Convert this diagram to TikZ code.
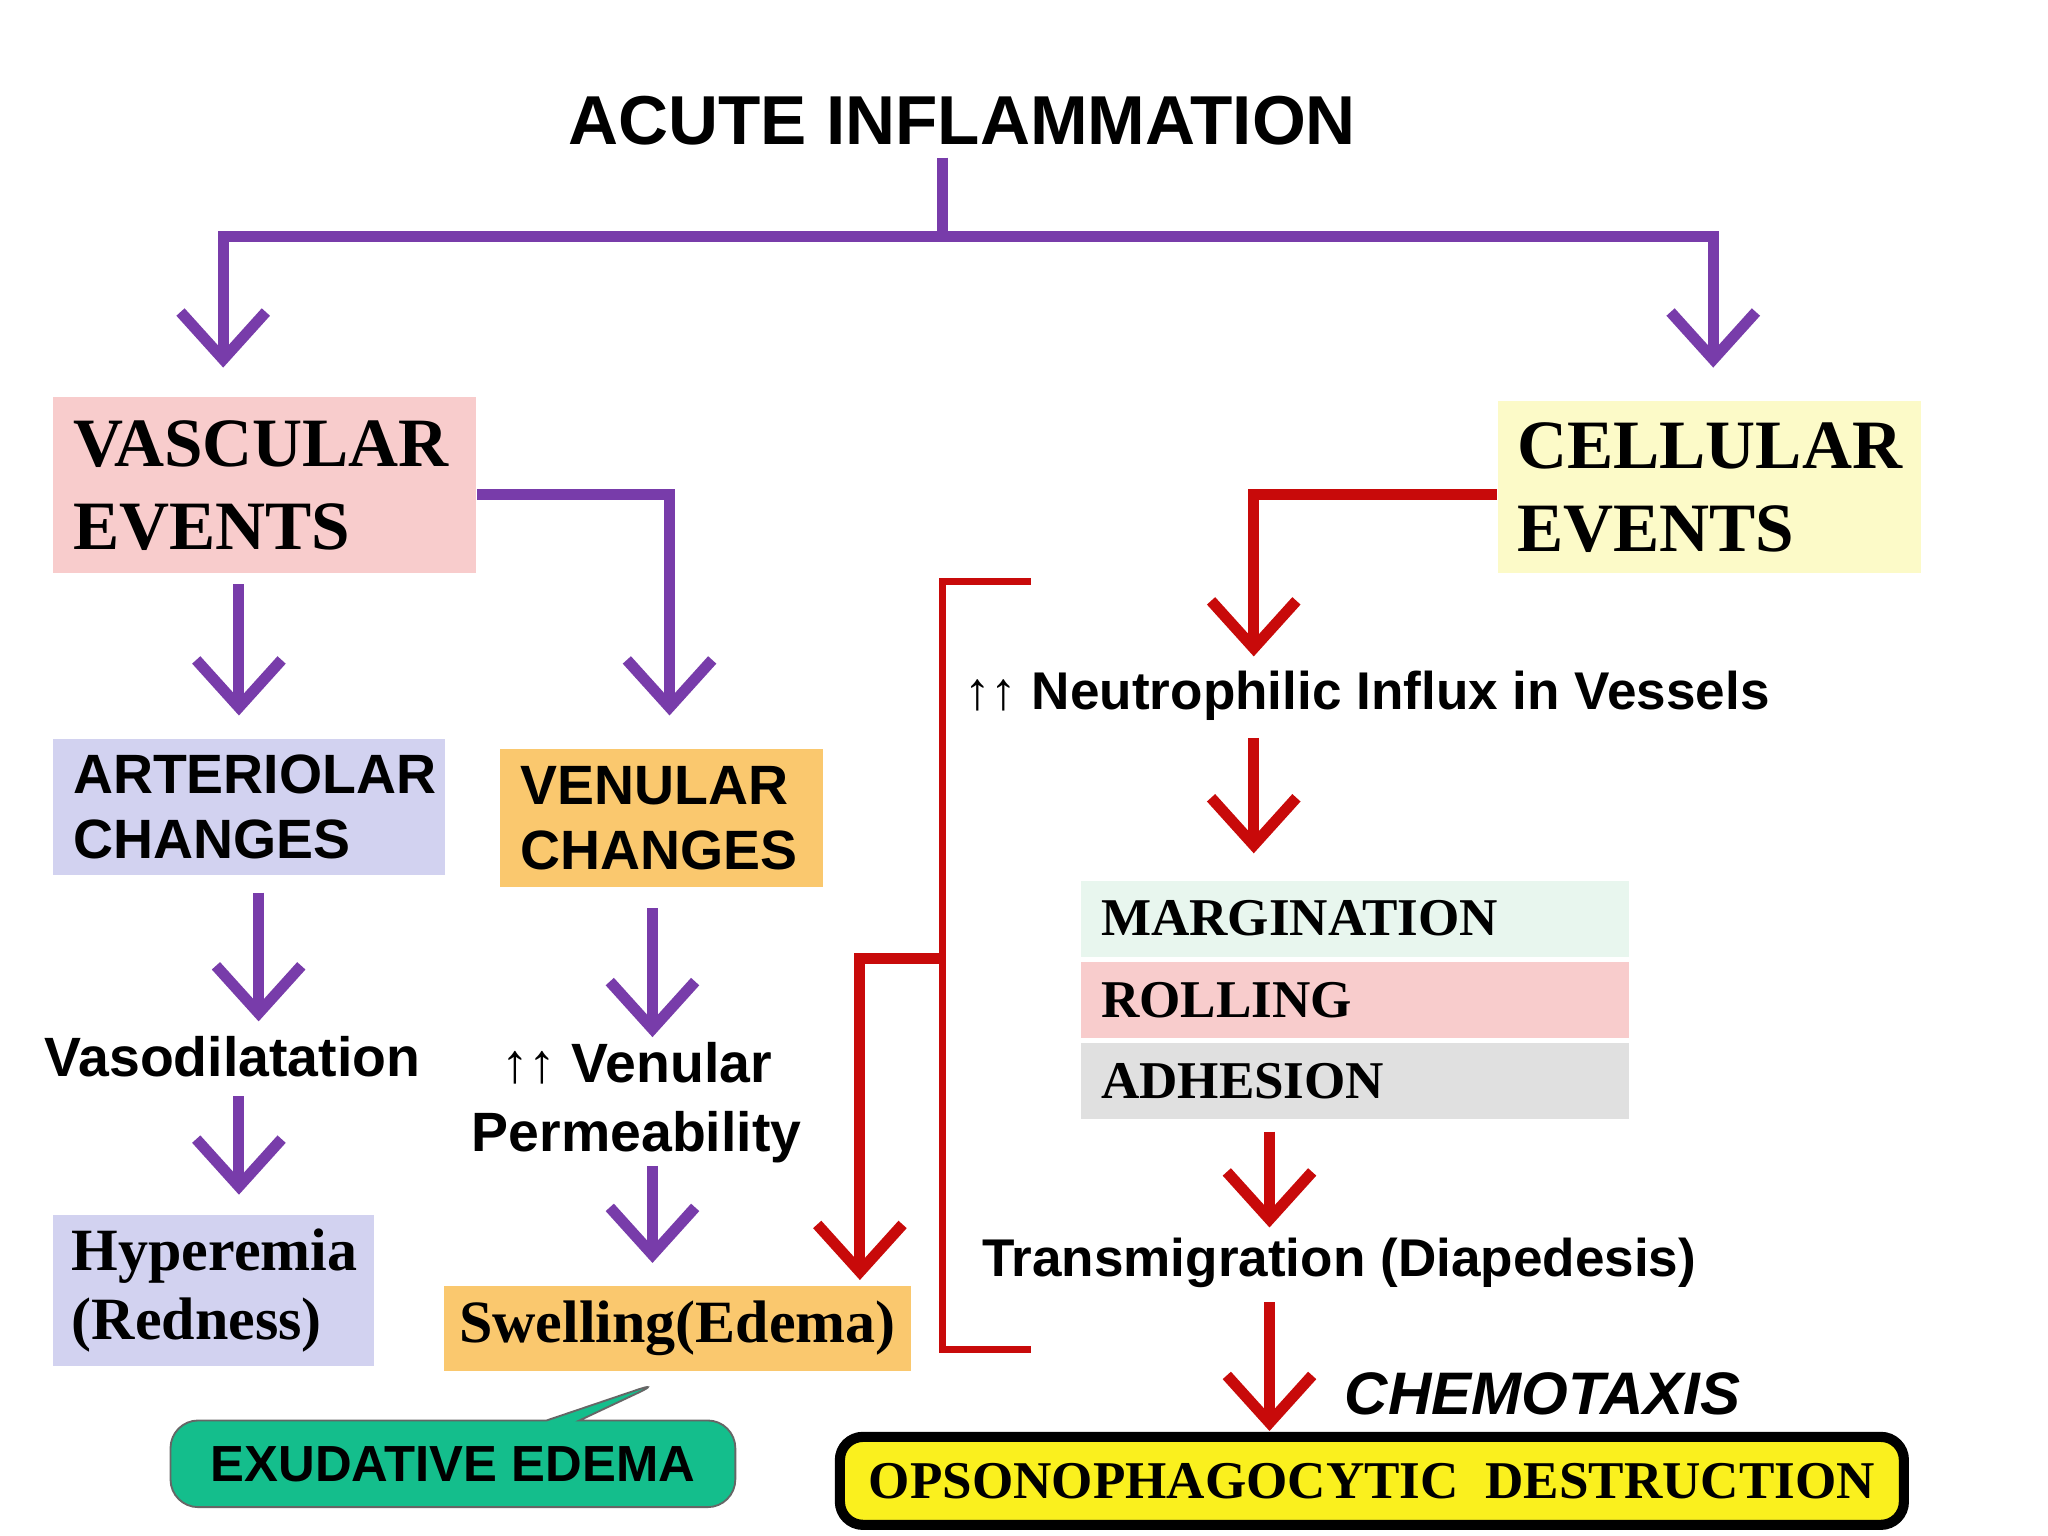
\documentclass[tikz,border=0pt]{standalone}
\usepackage{fontspec}
\setmainfont{Liberation Serif}
\setsansfont{Liberation Sans}
\usetikzlibrary{arrows.meta,shapes.callouts}
\begin{document}
\begin{tikzpicture}[x=0.01cm,y=-0.01cm,
  pur/.style={color={rgb,255:red,120;green,60;blue,170},line width=2.4pt},
  red/.style={color={rgb,255:red,200;green,10;blue,10},line width=2.4pt},
  arr/.style={-{Straight Barb[length=3.6mm,width=6.5mm,line width=2.4pt]}},
  box/.style={anchor=north west,align=left,inner ysep=0pt},
  ser/.style={font=\bfseries\fontsize{15pt}{18pt}\selectfont},
  sans/.style={font=\sffamily\bfseries\fontsize{12pt}{14pt}\selectfont},
  lbl/.style={font=\sffamily\bfseries\fontsize{12pt}{15pt}\selectfont,align=center}]
\useasboundingbox (0,0) rectangle (1560,1170);
\fill[white] (0,0) rectangle (1560,1170);
\node[font=\sffamily\bfseries\fontsize{15pt}{18pt}\selectfont] (title) at (733,92) {ACUTE INFLAMMATION};
% boxes
\node[box,fill={rgb,255:red,248;green,204;blue,204},minimum width=3.22cm,minimum height=1.34cm,ser,text width=2.92cm,inner xsep=0.15cm] (vasc) at (40,302) {VASCULAR\\EVENTS};
\node[box,fill={rgb,255:red,252;green,250;blue,200},minimum width=3.22cm,minimum height=1.31cm,ser,text width=2.92cm,inner xsep=0.15cm] (cell) at (1140,305) {CELLULAR\\EVENTS};
\node[box,fill={rgb,255:red,210;green,210;blue,240},minimum width=2.98cm,minimum height=1.04cm,sans,text width=2.68cm,inner xsep=0.15cm] (art) at (40,562) {ARTERIOLAR\\CHANGES};
\node[box,fill={rgb,255:red,250;green,200;blue,110},minimum width=2.46cm,minimum height=1.05cm,sans,text width=2.14cm,inner xsep=0.16cm] (ven) at (380,570) {VENULAR\\CHANGES};
\node[lbl] (vaso) at (177,805) {Vasodilatation};
\node[box,fill={rgb,255:red,210;green,210;blue,240},minimum width=2.44cm,minimum height=1.15cm,font=\bfseries\fontsize{13pt}{15pt}\selectfont,text width=2.16cm,inner xsep=0.14cm] (hyp) at (40,925) {Hyperemia\\(Redness)};
\node[lbl] (perm) at (485,840) {↑↑ Venular\\Permeability};
\node[fill={rgb,255:red,250;green,200;blue,110},minimum width=3.48cm,minimum height=0.6cm,font=\bfseries\fontsize{13pt}{15pt}\selectfont] (swell) at (516,1012) {Swelling(Edema)};
\node[rectangle callout,rounded corners=6pt,draw=black!60,fill={rgb,255:red,20;green,190;blue,140},minimum width=4.3cm,minimum height=0.66cm,font=\sffamily\bfseries\fontsize{11pt}{12pt}\selectfont,callout absolute pointer={(505,1052)}] (exud) at (345,1115) {EXUDATIVE EDEMA};
\node[anchor=west,font=\sffamily\bfseries\fontsize{11.5pt}{14pt}\selectfont] (neut) at (722,530) {↑↑ Neutrophilic Influx in Vessels};
\node[box,fill={rgb,255:red,232;green,246;blue,238},minimum width=4.17cm,minimum height=0.58cm,font=\bfseries\fontsize{11.5pt}{13pt}\selectfont,text width=3.87cm,inner xsep=0.15cm] (marg) at (823,670) {MARGINATION};
\node[box,fill={rgb,255:red,248;green,204;blue,204},minimum width=4.17cm,minimum height=0.58cm,font=\bfseries\fontsize{11.5pt}{13pt}\selectfont,text width=3.87cm,inner xsep=0.15cm] (roll) at (823,732) {ROLLING};
\node[box,fill={rgb,255:red,224;green,224;blue,224},minimum width=4.17cm,minimum height=0.58cm,font=\bfseries\fontsize{11.5pt}{13pt}\selectfont,text width=3.87cm,inner xsep=0.15cm] (adh) at (823,794) {ADHESION};
\node[font=\sffamily\bfseries\fontsize{11.5pt}{14pt}\selectfont] (trans) at (1020,962) {Transmigration (Diapedesis)};
\node[font=\sffamily\bfseries\itshape\fontsize{13pt}{15pt}\selectfont] (chemo) at (1175,1062) {CHEMOTAXIS};
\node[draw=black,line width=2.2pt,rounded corners=5pt,fill={rgb,255:red,250;green,240;blue,30},minimum width=8.1cm,minimum height=0.67cm,font=\bfseries\fontsize{11.5pt}{13pt}\selectfont] (opso) at (1045,1128) {OPSONOPHAGOCYTIC\ \ DESTRUCTION};
% purple connectors
\coordinate (tb) at (718,120);
\coordinate (L) at (170,280);
\coordinate (R) at (1305,280);
\draw[pur] (tb) -- (718,180);
\draw[pur,arr] (718,180) -| (L);
\draw[pur,arr] (718,180) -| (R);
\draw[pur,arr] (182,445) -- (182,545);
\draw[pur,arr] (vasc.east|-0,377) -| (510,545);
\draw[pur,arr] (197,680) -- (197,778);
\draw[pur,arr] (182,835) -- (182,910);
\draw[pur,arr] (497,692) -- (497,790);
\draw[pur,arr] (497,888) -- (497,962);
% red connectors
\draw[red,arr] (cell.west|-0,377) -| (955,500);
\draw[red,line width=1.6pt] (785,443) -- (718,443) -- (718,1028) -- (785,1028);
\draw[red,arr] (718,730) -| (655,975);
\draw[red,arr] (955,562) -- (955,650);
\draw[red,arr] (967,862) -- (967,935);
\draw[red,arr] (967,992) -- (967,1090);
\end{tikzpicture}
\end{document}
